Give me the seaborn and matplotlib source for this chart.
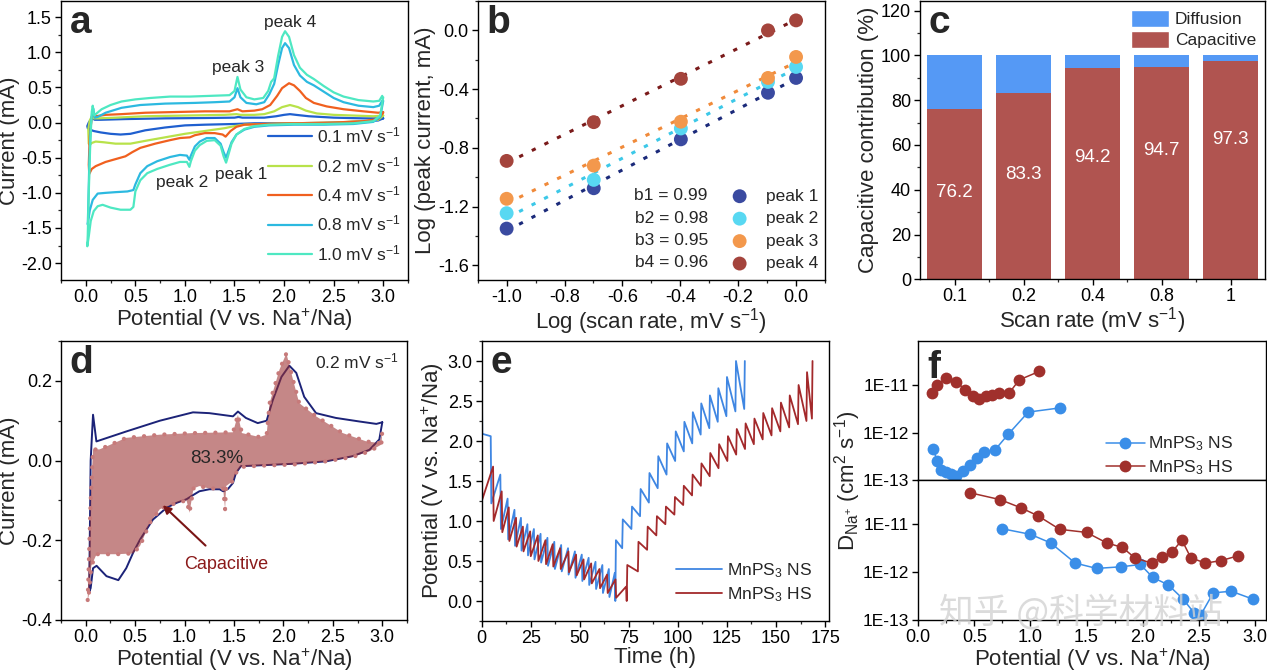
import matplotlib
matplotlib.use("Agg")
import matplotlib.pyplot as plt
import seaborn as sns
import numpy as np
from matplotlib.ticker import MultipleLocator, FixedLocator, FixedFormatter, NullLocator
from matplotlib.patches import Patch

# ======================= DATA =======================
# (a) CV curves at various scan rates: (potential V, current mA) pairs, closed loop
cv_labels = ["0.1 mV s$^{-1}$", "0.2 mV s$^{-1}$", "0.4 mV s$^{-1}$", "0.8 mV s$^{-1}$", "1.0 mV s$^{-1}$"]
cv_01 = [(3.00,0.06),(2.95,0.03),(2.70,0.01),(2.40,-0.005),(2.00,-0.01),(1.70,-0.01),(1.50,-0.02),(1.20,-0.03),
         (1.00,-0.04),(0.80,-0.07),(0.60,-0.11),(0.45,-0.16),(0.35,-0.17),(0.25,-0.16),(0.15,-0.14),(0.08,-0.12),
         (0.04,-0.10),(0.02,-0.08),(0.015,-0.05),(0.03,0.00),(0.05,0.04),(0.07,0.06),(0.09,0.04),(0.15,0.04),
         (0.40,0.05),(0.80,0.06),(1.20,0.065),(1.50,0.07),(1.54,0.08),(1.58,0.07),(1.80,0.07),(1.92,0.09),
         (2.00,0.11),(2.06,0.12),(2.12,0.11),(2.25,0.09),(2.50,0.07),(2.80,0.06),(3.00,0.06)]
cv_02 = [(3.00,0.10),(2.95,0.04),(2.80,0.02),(2.50,0.00),(2.10,-0.01),(1.80,-0.02),(1.60,-0.03),(1.50,-0.05),
         (1.40,-0.08),(1.20,-0.12),(1.00,-0.16),(0.80,-0.21),(0.60,-0.26),(0.45,-0.30),(0.30,-0.30),(0.18,-0.28),
         (0.10,-0.27),(0.06,-0.29),(0.04,-0.32),(0.03,-0.30),(0.025,-0.10),(0.04,0.03),(0.065,0.10),(0.08,0.06),
         (0.12,0.06),(0.30,0.07),(0.60,0.09),(1.00,0.10),(1.40,0.11),(1.52,0.12),(1.56,0.11),(1.70,0.11),
         (1.80,0.12),(1.90,0.16),(1.98,0.22),(2.06,0.25),(2.14,0.22),(2.22,0.17),(2.33,0.13),(2.50,0.11),
         (2.70,0.10),(2.90,0.09),(3.00,0.10)]
cv_04 = [(3.00,0.14),(2.95,0.05),(2.80,0.02),(2.50,0.00),(2.10,-0.01),(1.80,-0.02),(1.60,-0.03),(1.52,-0.06),
         (1.46,-0.12),(1.41,-0.20),(1.38,-0.17),(1.30,-0.15),(1.20,-0.15),(1.10,-0.18),(1.05,-0.21),(0.95,-0.22),
         (0.85,-0.25),(0.70,-0.30),(0.55,-0.36),(0.47,-0.42),(0.40,-0.48),(0.30,-0.52),(0.20,-0.56),(0.10,-0.62),
         (0.06,-0.66),(0.035,-0.73),(0.03,-0.60),(0.04,-0.20),(0.06,0.08),(0.08,0.11),(0.10,0.09),(0.20,0.11),
         (0.36,0.12),(0.60,0.14),(0.90,0.15),(1.20,0.16),(1.45,0.16),(1.53,0.19),(1.58,0.16),(1.70,0.17),
         (1.78,0.19),(1.86,0.25),(1.93,0.38),(1.98,0.49),(2.05,0.56),(2.10,0.53),(2.16,0.45),(2.22,0.35),
         (2.30,0.28),(2.43,0.23),(2.60,0.19),(2.80,0.16),(2.95,0.14),(3.00,0.15)]
cv_08 = [(3.00,0.31),(2.97,0.08),(2.90,0.01),(2.70,-0.02),(2.40,-0.03),(2.10,-0.03),(1.85,-0.04),(1.70,-0.06),
         (1.60,-0.10),(1.52,-0.17),(1.47,-0.28),(1.43,-0.44),(1.415,-0.50),(1.39,-0.42),(1.36,-0.30),(1.30,-0.22),
         (1.22,-0.22),(1.15,-0.27),(1.10,-0.34),(1.06,-0.47),(1.045,-0.53),(1.02,-0.47),(0.95,-0.46),(0.85,-0.49),
         (0.72,-0.55),(0.62,-0.62),(0.55,-0.72),(0.50,-0.88),(0.48,-0.96),(0.42,-0.98),(0.30,-0.99),(0.20,-1.00),
         (0.12,-1.01),(0.07,-1.10),(0.04,-1.25),(0.02,-1.45),(0.025,-1.20),(0.035,-0.60),(0.05,-0.05),(0.065,0.15),
         (0.075,0.20),(0.09,0.07),(0.12,0.08),(0.20,0.14),(0.36,0.21),(0.55,0.25),(0.80,0.27),(1.10,0.28),
         (1.30,0.29),(1.45,0.30),(1.50,0.36),(1.53,0.49),(1.56,0.36),(1.62,0.28),(1.72,0.26),(1.80,0.29),
         (1.85,0.40),(1.90,0.55),(1.94,0.82),(1.98,1.06),(2.01,1.13),(2.05,1.06),(2.10,0.82),(2.16,0.67),
         (2.23,0.58),(2.30,0.53),(2.40,0.44),(2.50,0.35),(2.60,0.29),(2.75,0.24),(2.90,0.22),(2.96,0.24),(2.99,0.31)]
cv_10 = [(3.00,0.36),(2.97,0.10),(2.90,0.02),(2.70,-0.01),(2.40,-0.02),(2.10,-0.02),(1.85,-0.03),(1.70,-0.05),
         (1.60,-0.09),(1.52,-0.17),(1.47,-0.30),(1.43,-0.50),(1.415,-0.57),(1.39,-0.48),(1.36,-0.33),(1.30,-0.25),
         (1.22,-0.26),(1.15,-0.32),(1.10,-0.40),(1.06,-0.55),(1.045,-0.63),(1.02,-0.56),(0.95,-0.56),(0.85,-0.60),
         (0.72,-0.66),(0.62,-0.72),(0.55,-0.82),(0.50,-0.98),(0.48,-1.20),(0.45,-1.24),(0.35,-1.24),(0.25,-1.21),
         (0.17,-1.17),(0.12,-1.19),(0.08,-1.26),(0.05,-1.40),(0.03,-1.62),(0.015,-1.76),(0.02,-1.60),(0.03,-1.00),
         (0.045,-0.30),(0.06,0.15),(0.07,0.24),(0.085,0.10),(0.10,0.12),(0.16,0.19),(0.25,0.25),(0.36,0.30),
         (0.50,0.33),(0.65,0.35),(0.85,0.37),(1.05,0.37),(1.25,0.38),(1.45,0.39),(1.50,0.45),(1.53,0.65),
         (1.56,0.47),(1.62,0.36),(1.70,0.33),(1.79,0.35),(1.84,0.45),(1.87,0.58),(1.90,0.63),(1.94,0.95),
         (1.98,1.22),(2.01,1.30),(2.05,1.22),(2.10,0.96),(2.16,0.78),(2.23,0.68),(2.30,0.62),(2.40,0.52),
         (2.50,0.43),(2.60,0.37),(2.75,0.32),(2.90,0.30),(2.96,0.31),(2.99,0.38)]
cv_peaks = ["peak 1", "peak 2", "peak 3", "peak 4"]

# (b) log(peak current) vs log(scan rate)
b_logv = [-1.0, -0.699, -0.398, -0.097, 0.0]
b_peak1 = [-1.350, -1.075, -0.742, -0.425, -0.324]
b_peak2 = [-1.245, -1.018, -0.668, -0.351, -0.249]
b_peak3 = [-1.147, -0.921, -0.622, -0.324, -0.181]
b_peak4 = [-0.889, -0.625, -0.330, 0.000, 0.068]
b_values = ["b1 = 0.99", "b2 = 0.98", "b3 = 0.95", "b4 = 0.96"]

# (c) capacitive / diffusion contribution
c_rates = ["0.1", "0.2", "0.4", "0.8", "1"]
c_cap = [76.2, 83.3, 94.2, 94.7, 97.3]
c_diff = [23.8, 16.7, 5.8, 5.3, 2.7]

# (d) CV at 0.2 mV/s and capacitive part
d_cv = [(3.00,0.096),(2.97,0.053),(2.87,0.027),(2.70,0.011),(2.43,-0.002),(2.10,-0.008),(1.76,-0.012),
        (1.57,-0.014),(1.52,-0.031),(1.49,-0.056),(1.44,-0.071),(1.39,-0.077),(1.355,-0.072),(1.25,-0.072),
        (1.15,-0.077),(1.07,-0.089),(1.02,-0.097),(0.92,-0.106),(0.82,-0.118),(0.68,-0.148),(0.55,-0.198),
        (0.48,-0.231),(0.41,-0.270),(0.33,-0.300),(0.21,-0.290),(0.11,-0.264),(0.074,-0.270),(0.05,-0.320),
        (0.035,-0.330),(0.05,0.00),(0.074,0.115),(0.108,0.048),(0.41,0.073),(0.75,0.100),(1.085,0.121),
        (1.25,0.119),(1.49,0.111),(1.54,0.123),(1.62,0.107),(1.74,0.094),(1.83,0.100),(1.89,0.150),
        (1.98,0.210),(2.06,0.238),(2.13,0.220),(2.21,0.160),(2.33,0.119),(2.53,0.107),(2.77,0.098),
        (2.94,0.092),(3.00,0.096)]
d_cap = [(0.02,-0.35),(0.05,-0.10),(0.074,0.028),(0.14,0.028),(0.41,0.057),(0.75,0.065),(1.085,0.069),
         (1.49,0.071),(1.54,0.115),(1.58,0.069),(1.76,0.059),(1.83,0.065),(1.86,0.144),(1.96,0.228),
         (2.03,0.269),(2.10,0.200),(2.16,0.144),(2.33,0.111),(2.60,0.069),(2.84,0.048),(2.97,0.044),
         (3.00,0.069),(2.99,0.040),(2.87,0.023),(2.70,0.009),(2.43,-0.002),(2.10,-0.010),(1.76,-0.013),
         (1.57,-0.016),(1.52,-0.031),(1.49,-0.051),(1.42,-0.064),(1.41,-0.122),(1.39,-0.070),(1.25,-0.070),
         (1.15,-0.064),(1.09,-0.070),(1.05,-0.131),(1.02,-0.100),(0.92,-0.106),(0.82,-0.115),(0.75,-0.122),
         (0.65,-0.156),(0.55,-0.214),(0.48,-0.233),(0.31,-0.235),(0.11,-0.235),(0.057,-0.264),(0.03,-0.340),
         (0.02,-0.35)]
d_percent = "83.3%"

# (e) GITT: pulse start times (h), potential before / after each pulse (V)
ns_d_t   = [0.0, 4.6, 9.5, 13.2, 16.7, 20.0, 23.3, 26.6, 30.0, 33.5, 37.0, 40.5, 44.0, 47.5, 51.0, 54.5, 58.0, 61.5, 64.8, 67.8]
ns_d_top = [3.00, 2.06, 1.58, 1.28, 1.14, 1.04, 0.96, 0.90, 0.84, 0.79, 0.74, 0.70, 0.66, 0.62, 0.58, 0.54, 0.49, 0.45, 0.40, 0.35]
ns_d_bot = [2.09, 1.22, 0.90, 0.77, 0.69, 0.63, 0.57, 0.52, 0.48, 0.44, 0.40, 0.37, 0.33, 0.29, 0.25, 0.20, 0.15, 0.10, 0.05, 0.00]
ns_c_t   = [68.1, 71.6, 76.3, 80.7, 85.2, 89.7, 94.2, 98.6, 103.0, 107.3, 111.6, 116.0, 120.3, 124.7, 129.3, 133.8]
ns_c_bot = [0.00, 0.66, 0.90, 1.06, 1.23, 1.41, 1.58, 1.75, 1.87, 1.97, 2.08, 2.16, 2.24, 2.31, 2.37, 2.40]
ns_c_top = [0.76, 1.02, 1.18, 1.40, 1.60, 1.81, 1.97, 2.12, 2.24, 2.36, 2.47, 2.57, 2.66, 2.80, 3.00, 3.00]
hs_d_t   = [0.0, 5.8, 10.2, 13.8, 17.5, 21.0, 24.7, 28.6, 32.5, 36.2, 40.0, 44.2, 48.1, 51.9, 55.8, 60.0, 63.9, 68.2, 73.6]
hs_d_top = [1.77, 1.68, 1.37, 1.17, 1.04, 0.93, 0.87, 0.82, 0.76, 0.71, 0.66, 0.62, 0.58, 0.52, 0.47, 0.40, 0.33, 0.27, 0.18]
hs_d_bot = [1.27, 1.00, 0.86, 0.75, 0.68, 0.62, 0.56, 0.50, 0.46, 0.43, 0.40, 0.36, 0.32, 0.27, 0.22, 0.16, 0.10, 0.04, 0.00]
hs_c_t   = [73.9, 79.6, 84.3, 89.0, 93.6, 98.2, 102.7, 107.2, 111.7, 116.2, 120.7, 125.2, 129.7, 134.2, 138.7, 143.2,
            147.7, 152.2, 156.7, 161.2, 165.5, 168.3]
hs_c_bot = [0.00, 0.37, 0.64, 0.82, 0.96, 1.08, 1.20, 1.32, 1.44, 1.56, 1.66, 1.75, 1.83, 1.90, 1.96, 2.02, 2.07, 2.12,
            2.17, 2.21, 2.25, 2.28]
hs_c_top = [0.45, 0.74, 0.93, 1.06, 1.18, 1.30, 1.44, 1.58, 1.72, 1.85, 1.96, 2.06, 2.15, 2.22, 2.28, 2.35, 2.41, 2.48,
            2.57, 2.70, 2.86, 3.00]
e_labels = ["MnPS$_3$ NS", "MnPS$_3$ HS"]

# (f) Na+ diffusion coefficients (cm2/s) vs potential (V); top: discharge, bottom: charge
f_top_ns_v = [0.13, 0.17, 0.20, 0.25, 0.29, 0.34, 0.40, 0.46, 0.52, 0.59, 0.68, 0.80, 0.98, 1.26]
f_top_ns_d = [4.6e-13, 2.5e-13, 1.6e-13, 1.5e-13, 1.35e-13, 1.2e-13, 1.55e-13, 2.1e-13, 2.95e-13, 3.9e-13,
              4.2e-13, 9.1e-13, 2.7e-12, 3.3e-12]
f_top_hs_v = [0.12, 0.17, 0.25, 0.34, 0.42, 0.49, 0.54, 0.60, 0.66, 0.72, 0.81, 0.90, 1.08]
f_top_hs_d = [6.8e-12, 1.0e-11, 1.38e-11, 1.17e-11, 7.9e-12, 5.8e-12, 5.2e-12, 5.8e-12, 6.2e-12, 6.8e-12,
              6.8e-12, 1.29e-11, 1.95e-11]
f_bot_ns_v = [0.75, 1.00, 1.18, 1.40, 1.59, 1.81, 1.98, 2.09, 2.23, 2.36, 2.46, 2.52, 2.63, 2.79, 2.98]
f_bot_ns_d = [8.1e-12, 6.2e-12, 4.1e-12, 1.55e-12, 1.2e-12, 1.3e-12, 1.45e-12, 7.8e-13, 5.4e-13, 2.75e-13,
              1.4e-13, 1.3e-13, 3.7e-13, 4.0e-13, 2.75e-13]
f_bot_hs_v = [0.46, 0.73, 0.92, 1.07, 1.26, 1.50, 1.68, 1.82, 1.93, 2.08, 2.17, 2.26, 2.35, 2.43, 2.56, 2.70, 2.85]
f_bot_hs_d = [4.6e-11, 3.3e-11, 2.2e-11, 1.5e-11, 7.9e-12, 6.8e-12, 4.1e-12, 3.3e-12, 2.0e-12, 1.55e-12,
              2.1e-12, 2.6e-12, 4.7e-12, 2.0e-12, 1.55e-12, 1.75e-12, 2.2e-12]
f_ticks = [1e-13, 1e-12, 1e-11]
f_ticklabels = ["1E-13", "1E-12", "1E-11"]
watermark = "知乎 @科学材料站"

# ======================= STYLE =======================
sns.set_style("ticks")
plt.rcParams["font.family"] = ["Liberation Sans", "DejaVu Sans"]
plt.rcParams["mathtext.fontset"] = "custom"
plt.rcParams["mathtext.rm"] = "Liberation Sans"
plt.rcParams["mathtext.it"] = "Liberation Sans:italic"
plt.rcParams["mathtext.bf"] = "Liberation Sans:bold"
plt.rcParams["axes.unicode_minus"] = False

TICK = 13
LAB = 16
LEG = 12.5
W, H = 1267, 670

fig = plt.figure(figsize=(12.67, 6.70), dpi=100)

def rect(l, t, r, b):
    return [l / W, 1 - b / H, (r - l) / W, (b - t) / H]

def style(ax, xmaj=None, xmin=None, ymaj=None, ymin=None, ysize=TICK):
    for s in ax.spines.values():
        s.set_visible(True)
        s.set_linewidth(1.0)
        s.set_color("black")
    ax.tick_params(which="major", direction="out", length=4, width=1.0, labelsize=TICK,
                   top=False, right=False, colors="black", pad=2.5)
    ax.tick_params(axis="y", labelsize=ysize)
    ax.tick_params(which="minor", direction="out", length=2.2, width=0.9, top=False, right=False)
    if xmaj: ax.xaxis.set_major_locator(MultipleLocator(xmaj))
    if xmin: ax.xaxis.set_minor_locator(MultipleLocator(xmin))
    if ymaj: ax.yaxis.set_major_locator(MultipleLocator(ymaj))
    if ymin: ax.yaxis.set_minor_locator(MultipleLocator(ymin))

def letter(ax, s, x=0.025, y=0.985):
    ax.text(x, y, s, transform=ax.transAxes, fontsize=28, fontweight="bold", va="top", ha="left")

pot_label = "Potential (V vs. Na$^{+}$/Na)"

# ---------------- (a) ----------------
axa = fig.add_axes(rect(61, 1, 408, 280))
cv_colors = ["#1f5fcf", "#b8e24a", "#f0601f", "#2cb9e0", "#4ee8c2"]
for cv, lab, col in zip([cv_01, cv_02, cv_04, cv_08, cv_10], cv_labels, cv_colors):
    sns.lineplot(x=[p[0] for p in cv], y=[p[1] for p in cv], sort=False, estimator=None,
                 color=col, lw=1.6, label=lab, ax=axa)
axa.set_xlim(-0.25, 3.25)
axa.set_ylim(-2.24, 1.73)
style(axa, 0.5, 0.25, 0.5, 0.25)
axa.set_xlabel(pot_label, fontsize=LAB, labelpad=0)
axa.set_ylabel("Current (mA)", fontsize=LAB, labelpad=1)
axa.legend(loc="lower right", frameon=False, fontsize=LEG, handlelength=2.5, handletextpad=0.3,
           labelspacing=0.55, borderaxespad=0.0, bbox_to_anchor=(1.0, 0.035))
for txt, xy in zip(cv_peaks, [(1.57, -0.74), (0.97, -0.85), (1.54, 0.79), (2.06, 1.43)]):
    axa.text(xy[0], xy[1], txt, fontsize=LEG, ha="center", va="center")
letter(axa, "a")

# ---------------- (b) ----------------
axb = fig.add_axes(rect(477.7, 1, 825, 280))
b_mk = ["#3a4aa0", "#58d8f2", "#f3984c", "#a4443c"]
b_ln = ["#1b2a7a", "#3cc8e8", "#f08a3a", "#7a1a1a"]
for i, (vals, mk, ln) in enumerate(zip([b_peak1, b_peak2, b_peak3, b_peak4], b_mk, b_ln)):
    sns.regplot(x=b_logv, y=vals, scatter=False, ci=None, truncate=True, ax=axb,
                line_kws=dict(color=ln, lw=2.2, ls=(0, (1.4, 3.2))))
    sns.scatterplot(x=b_logv, y=vals, color=mk, s=100, edgecolor="none", ax=axb,
                    label=cv_peaks[i], zorder=3)
axb.set_xlim(-1.1, 0.1)
axb.set_ylim(-1.7, 0.2)
style(axb, 0.2, 0.1, 0.4, 0.2)
axb.set_xlabel("Log (scan rate, mV s$^{-1}$)", fontsize=LAB, labelpad=0)
axb.set_ylabel("Log (peak current, mA)", fontsize=LAB, labelpad=1)
axb.legend(loc="lower right", frameon=False, fontsize=LEG, handletextpad=0.5, labelspacing=0.42,
           borderaxespad=0.0, bbox_to_anchor=(1.0, 0.007))
for k, txt in enumerate(b_values):
    axb.text(-0.305, -1.127 - 0.152 * k, txt, fontsize=LEG, ha="right", va="center")
letter(axb, "b")

# ---------------- (c) ----------------
axc = fig.add_axes(rect(920, 1, 1265, 279.3))
diff_col = "#5599f5"
cap_col = "#b05450"
totals = [c + d for c, d in zip(c_cap, c_diff)]
sns.barplot(x=c_rates, y=totals, color=diff_col, saturation=1, width=0.79, ax=axc, linewidth=0, edgecolor="none")
sns.barplot(x=c_rates, y=c_cap, color=cap_col, saturation=1, width=0.79, ax=axc, linewidth=0, edgecolor="none")
label_y = [38.7, 47.0, 54.6, 57.7, 62.5]
for k, v in enumerate(c_cap):
    axc.text(k, label_y[k], f"{v}", color="white", fontsize=13.5, ha="center", va="center")
axc.set_xlim(-0.5, 4.5)
axc.set_ylim(0, 124.3)
style(axc, None, None, 20, 10)
axc.xaxis.set_minor_locator(FixedLocator([0.5, 1.5, 2.5, 3.5]))
axc.set_xlabel("Scan rate (mV s$^{-1}$)", fontsize=LAB, labelpad=0)
axc.set_ylabel("Capacitive contribution (%)", fontsize=LAB, labelpad=1)
axc.legend(handles=[Patch(facecolor=diff_col, label="Diffusion"), Patch(facecolor=cap_col, label="Capacitive")],
           loc="upper right", frameon=False, fontsize=LEG, handlelength=2.2, handleheight=1.15,
           handletextpad=0.35, labelspacing=0.2, borderaxespad=0.1, bbox_to_anchor=(1.0, 1.0))
letter(axc, "c")

# ---------------- (d) ----------------
axd = fig.add_axes(rect(61, 341, 407, 620))
sns.lineplot(x=[p[0] for p in d_cv], y=[p[1] for p in d_cv], sort=False, estimator=None,
             color="#1c2378", lw=1.4, ax=axd)
axd.fill([p[0] for p in d_cap], [p[1] for p in d_cap], color="#9b3030", alpha=0.58, lw=0, zorder=3)
axd.plot([p[0] for p in d_cap], [p[1] for p in d_cap], color="#c77a7a", lw=3.0,
         ls=(0, (0.05, 2.4)), dash_capstyle="round", zorder=4)
axd.text(1.32, 0.005, d_percent, fontsize=13.5, ha="center", va="center", zorder=5)
axd.text(3.17, 0.248, "0.2 mV s$^{-1}$", fontsize=LEG, ha="right", va="center")
axd.annotate("Capacitive", xy=(0.78, -0.112), xytext=(1.42, -0.262), fontsize=13, color="#8b1a1a",
             ha="center", va="center", zorder=6,
             arrowprops=dict(arrowstyle="-|>", color="#7a1515", lw=1.5, mutation_scale=12,
                             shrinkA=8, shrinkB=0))
axd.set_xlim(-0.25, 3.25)
axd.set_ylim(-0.4, 0.3)
style(axd, 0.5, 0.25, 0.2, 0.1)
axd.set_xlabel(pot_label, fontsize=LAB, labelpad=0)
axd.set_ylabel("Current (mA)", fontsize=LAB, labelpad=1)
letter(axd, "d")

# ---------------- (e) ----------------
axe = fig.add_axes(rect(481.7, 341, 829, 621))
PULSE = 0.3

def gitt(d_t, d_top, d_bot, c_t, c_bot, c_top):
    t, v = [], []
    for ti, a, b in zip(d_t, d_top, d_bot):
        t += [ti, ti + PULSE]
        v += [a, b]
    for ti, a, b in zip(c_t, c_bot, c_top):
        t += [ti, ti + PULSE]
        v += [a, b]
    return t, v

t_ns, v_ns = gitt(ns_d_t, ns_d_top, ns_d_bot, ns_c_t, ns_c_bot, ns_c_top)
t_hs, v_hs = gitt(hs_d_t, hs_d_top, hs_d_bot, hs_c_t, hs_c_bot, hs_c_top)
sns.lineplot(x=t_ns, y=v_ns, sort=False, estimator=None, color="#3f86e2", lw=1.3, label=e_labels[0], ax=axe)
sns.lineplot(x=t_hs, y=v_hs, sort=False, estimator=None, color="#a3292b", lw=1.3, label=e_labels[1], ax=axe)
axe.set_xlim(0, 177)
axe.set_ylim(-0.25, 3.25)
style(axe, 25, 12.5, 0.5, 0.25)
axe.set_xlabel("Time (h)", fontsize=LAB, labelpad=0)
axe.set_ylabel(pot_label, fontsize=LAB, labelpad=1)
axe.legend(loc="lower right", frameon=False, fontsize=LEG, handlelength=2.6, handletextpad=0.3,
           labelspacing=0.3, borderaxespad=0.6, bbox_to_anchor=(1.0, 0.0))
letter(axe, "e")

# ---------------- (f) ----------------
axf1 = fig.add_axes(rect(918.3, 341, 1266, 480))
axf2 = fig.add_axes(rect(918.3, 480, 1266, 620))
ns_col, hs_col = "#3a8ee8", "#a0302c"
for ax, nv, nd, hv, hd in [(axf1, f_top_ns_v, f_top_ns_d, f_top_hs_v, f_top_hs_d),
                           (axf2, f_bot_ns_v, f_bot_ns_d, f_bot_hs_v, f_bot_hs_d)]:
    sns.lineplot(x=nv, y=nd, sort=False, estimator=None, color=ns_col, lw=1.1, marker="o", ms=8.5,
                 mec="none", label=e_labels[0], ax=ax)
    sns.lineplot(x=hv, y=hd, sort=False, estimator=None, color=hs_col, lw=1.1, marker="o", ms=8.5,
                 mec="none", label=e_labels[1], ax=ax)
    ax.set_yscale("log")
    ax.set_ylim(1e-13, 8.5e-11)
    ax.set_xlim(0, 3.1)
    style(ax, 0.5, 0.25, ysize=12.5)
    ax.yaxis.set_major_locator(FixedLocator(f_ticks))
    ax.yaxis.set_major_formatter(FixedFormatter(f_ticklabels))
    ax.yaxis.set_minor_locator(NullLocator())
    ax.set_ylabel("")
axf1.tick_params(axis="x", which="both", bottom=False, labelbottom=False)
axf1.set_xlabel("")
axf1.legend(loc="lower right", frameon=False, fontsize=LEG, handlelength=2.2, handletextpad=0.2,
            labelspacing=0.3, borderaxespad=0.0, bbox_to_anchor=(0.925, -0.03))
axf2.get_legend().remove()
axf2.set_xlabel(pot_label, fontsize=LAB, labelpad=0)
fig.text(848 / W, 1 - 480.5 / H, r"D$_{\mathrm{Na}^{+}}$ (cm$^{2}$ s$^{-1}$)", rotation=90,
         fontsize=LAB, ha="center", va="center")
letter(axf1, "f", y=0.935)
fig.text(1081 / W, 1 - 613 / H, watermark, fontsize=25, color="#d2d2d2", alpha=0.8,
         family=["Noto Sans CJK SC", "DejaVu Sans"], ha="center", va="center", zorder=10)

fig.savefig("out.png", dpi=100)
